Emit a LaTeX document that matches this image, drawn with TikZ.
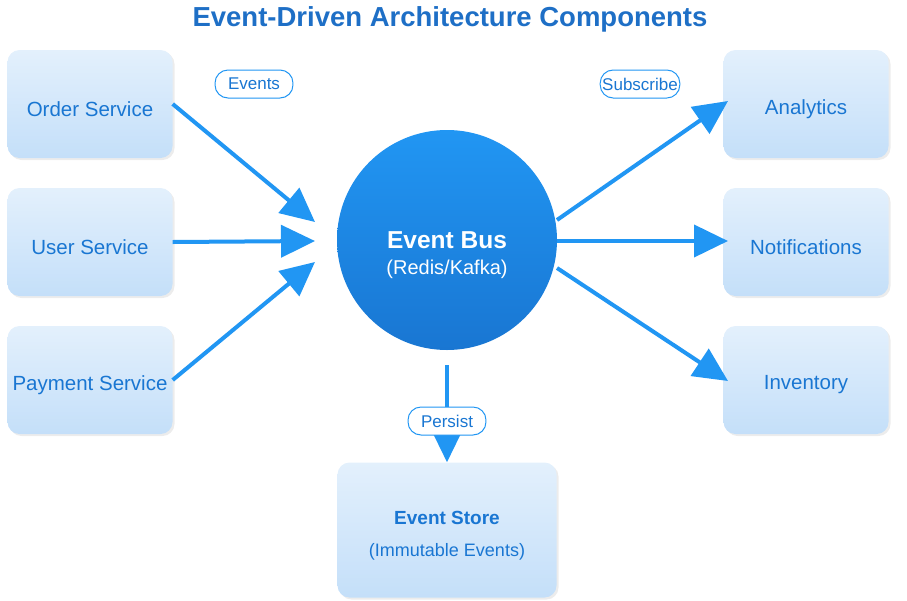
\documentclass[tikz,border=0pt]{standalone}
\usepackage{fontspec}
\setmainfont{Liberation Sans}
\usetikzlibrary{arrows.meta,shadows}
\definecolor{evblue}{HTML}{2196F3}
\definecolor{evdark}{HTML}{1976D2}
\definecolor{evtitle}{HTML}{1E6FC6}
\definecolor{boxtop}{HTML}{E3F0FC}
\definecolor{boxbot}{HTML}{C4DFF9}
\begin{document}
\begin{tikzpicture}[
    x=1pt, y=-1pt,
    box/.style   = {rounded corners=12pt, minimum width=165pt, minimum height=108pt,
                    top color=boxtop, bottom color=boxbot, draw=none,
                    drop shadow={shadow xshift=2pt, shadow yshift=-2pt, opacity=.15}},
    boxtext/.style = {text=evdark, font=\fontsize{20.5}{22}\selectfont},
    flow/.style  = {draw=evblue, line width=4pt, -{Triangle[length=34pt,width=32pt]}},
    pill/.style  = {draw=evblue, fill=white, rounded corners=13pt, line width=1pt,
                    text=evdark, font=\fontsize{17}{18}\selectfont,
                    minimum height=28pt, inner xsep=13pt},
  ]
  \useasboundingbox (0,0) rectangle (907,600);

  % Titel
  \node (title) at (450,19) [text=evtitle, font=\bfseries\fontsize{27.5}{30}\selectfont]
    {Event-Driven Architecture Components};

  % Produzenten
  \node (order)   at (90,104) [box] {};
  \node (user)    at (90,242) [box] {};
  \node (payment) at (90,380) [box] {};
  \node (torder)   at (90,109) [boxtext] {Order Service};
  \node (tuser)    at (90,247) [boxtext] {User Service};
  \node (tpayment) at (90,385) [boxtext] {Payment Service};

  % Konsumenten
  \node (analytics) at (806,104) [box] {};
  \node (notify)    at (806,242) [box] {};
  \node (inventory) at (806,380) [box] {};
  \node (tanalytics) at (806,109) [boxtext] {Analytics};
  \node (tnotify)    at (806,247) [boxtext] {Notifications};
  \node (tinventory) at (806,385) [boxtext] {Inventory};

  % Event Store
  \node (store) at (447,530) [box, minimum width=219pt, minimum height=135pt] {};
  \node (tstore) at (447,536) [text=evdark, align=center]
    {{\bfseries\fontsize{19}{22}\selectfont Event Store}\\[18pt]
     {\fontsize{18}{20}\selectfont (Immutable Events)}};

  % Event Bus
  \node (bus) at (447,240) [circle, minimum size=220pt, inner sep=0pt,
      top color=evblue, bottom color=evdark] {};
  \node (tbus) at (447,255) [text=white, align=center]
    {{\bfseries\fontsize{24.5}{26}\selectfont Event Bus}\\[10pt]
     {\fontsize{20}{22}\selectfont (Redis/Kafka)}};

  % Pfeilenden
  \coordinate (in1)  at (315,222);
  \coordinate (in2)  at (315,241);
  \coordinate (in3)  at (315,262);
  \coordinate (out1) at (557,220);
  \coordinate (out2) at (557,241);
  \coordinate (out3) at (557,268);
  \coordinate (end1) at (728,101);
  \coordinate (end2) at (728,241);
  \coordinate (end3) at (728,381);
  \coordinate (down) at (447,365);

  % Pfeile
  \draw[flow] (order.east)   -- (in1);
  \draw[flow] (user.east)    -- (in2);
  \draw[flow] (payment.east) -- (in3);
  \draw[flow] (out1) -- (end1);
  \draw[flow] (out2) -- (end2);
  \draw[flow] (out3) -- (end3);
  \draw[flow] (down) -- (store.north);

  % Beschriftungen
  \node (lev)  at (254,84)  [pill] {Events};
  \node (lsub) at (640,84)  [pill, inner xsep=2pt] {Subscribe};
  \node (lper) at (447,421) [pill] {Persist};
\end{tikzpicture}
\end{document}
